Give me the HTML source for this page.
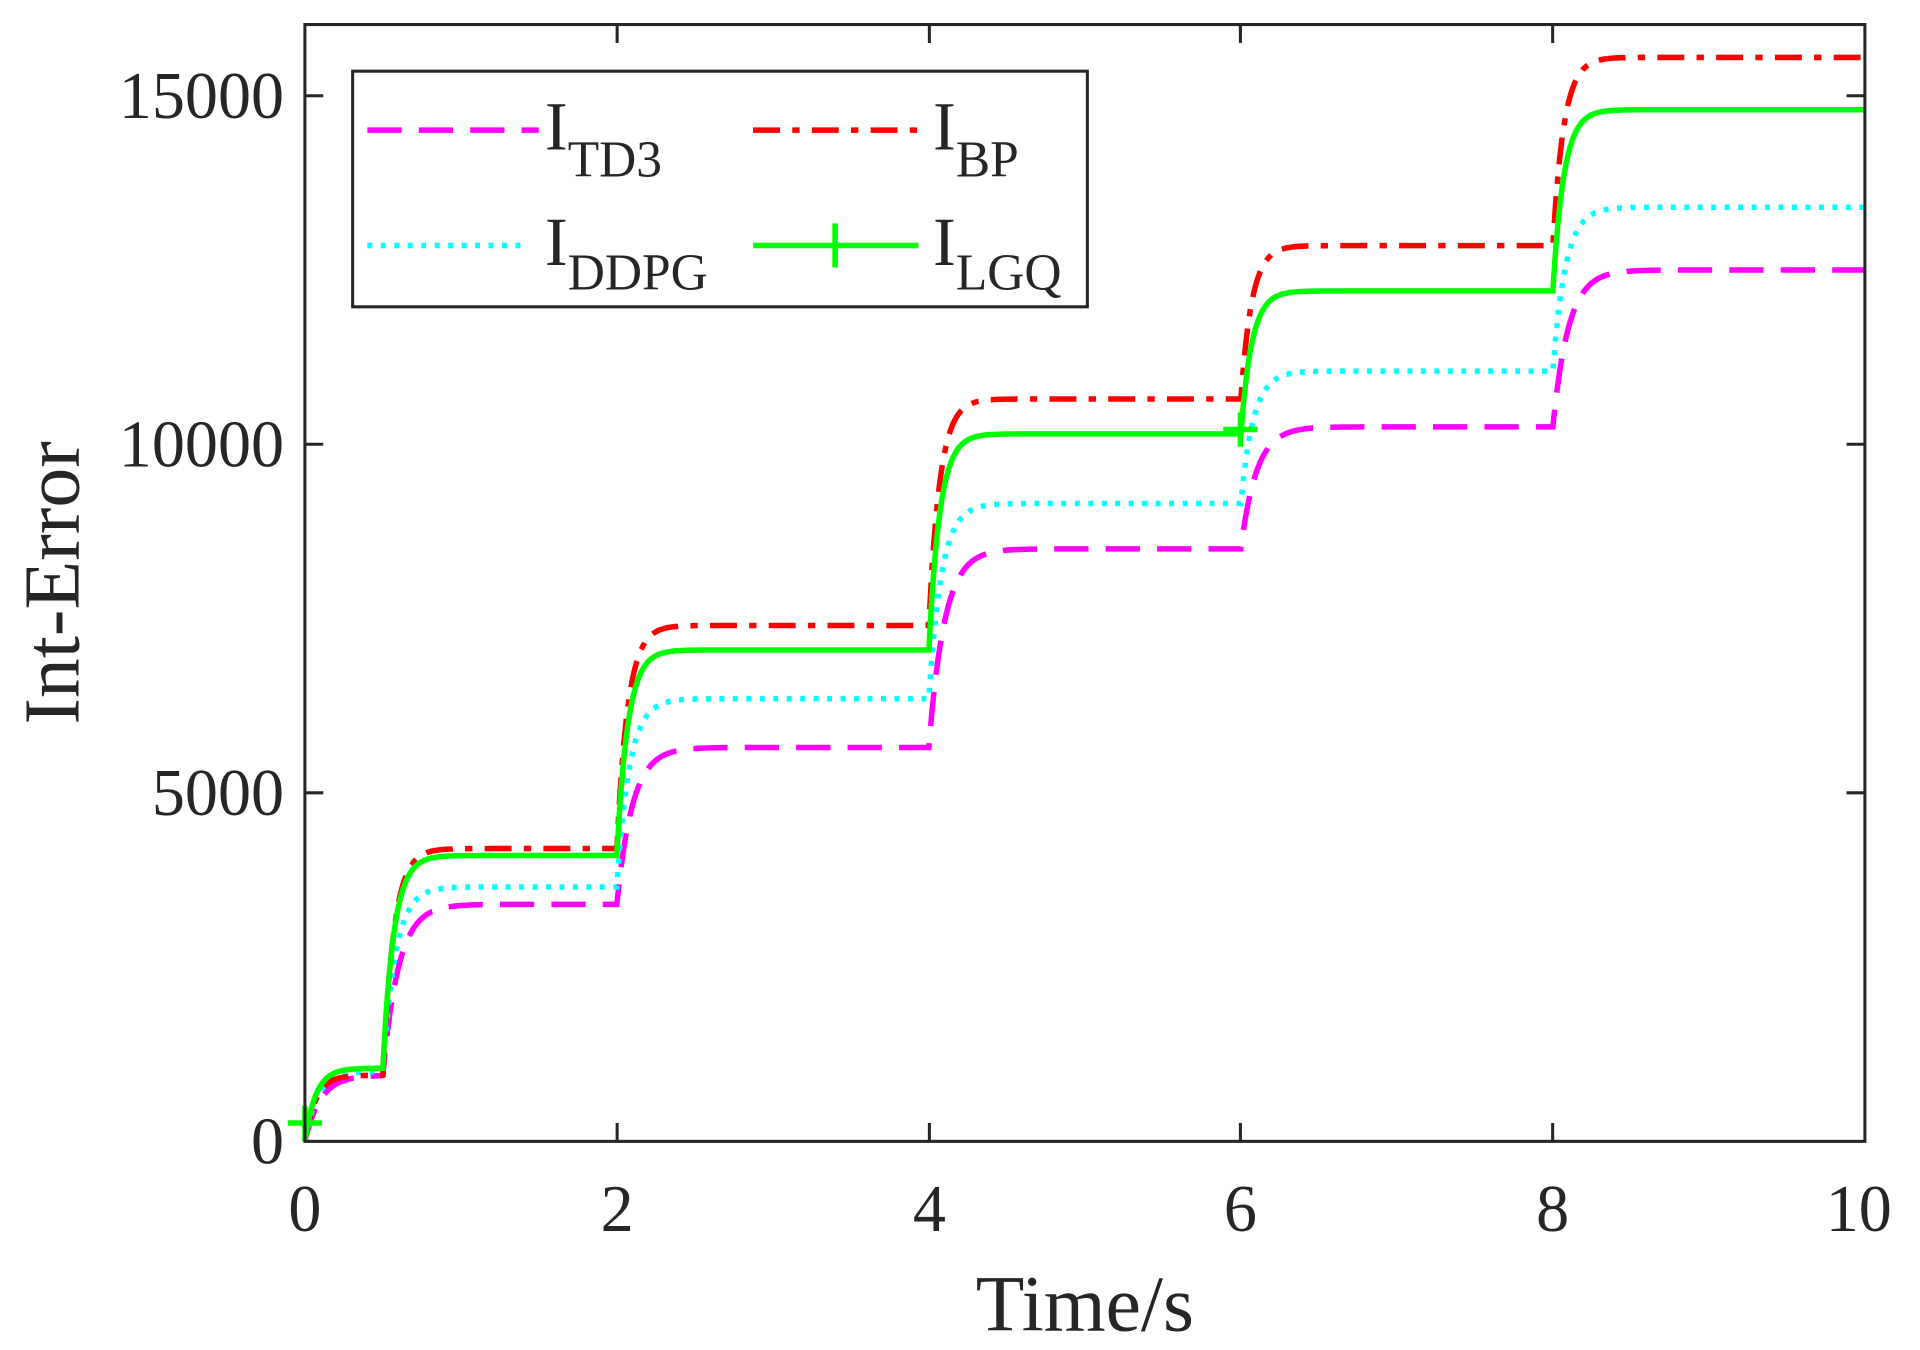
<!DOCTYPE html>
<html><head><meta charset="utf-8"><style>
html,body{margin:0;padding:0;background:#fff;}
svg{display:block;}
text{font-family:"Liberation Serif",serif;fill:#262626;}
</style></head><body>
<svg id="s" width="1920" height="1350" viewBox="0 0 1568 1100" preserveAspectRatio="none" xmlns="http://www.w3.org/2000/svg">
<rect width="1568" height="1100" fill="#fff"/>
<g id="curves"></g>
<rect x="249" y="20" width="1274" height="910" fill="none" stroke="#262626" stroke-width="2.5"/>
<g stroke="#262626" stroke-width="2.5">
<line x1="249" y1="930" x2="249" y2="915"/><line x1="504" y1="930" x2="504" y2="915"/><line x1="759" y1="930" x2="759" y2="915"/><line x1="1013" y1="930" x2="1013" y2="915"/><line x1="1268" y1="930" x2="1268" y2="915"/>
<line x1="504" y1="20" x2="504" y2="35"/><line x1="759" y1="20" x2="759" y2="35"/><line x1="1013" y1="20" x2="1013" y2="35"/><line x1="1268" y1="20" x2="1268" y2="35"/>
<line x1="249" y1="646" x2="264" y2="646"/><line x1="249" y1="362" x2="264" y2="362"/><line x1="249" y1="78" x2="264" y2="78"/>
<line x1="1523" y1="646" x2="1508" y2="646"/><line x1="1523" y1="362" x2="1508" y2="362"/><line x1="1523" y1="78" x2="1508" y2="78"/>
</g>
<g font-size="54" text-anchor="end">
<text x="232" y="948">0</text><text x="232" y="664">5000</text><text x="232" y="380">10000</text><text x="232" y="96">15000</text>
</g>
<g font-size="54" text-anchor="middle">
<text x="249" y="1003">0</text><text x="504" y="1003">2</text><text x="759" y="1003">4</text><text x="1013" y="1003">6</text><text x="1268" y="1003">8</text><text x="1518" y="1003">10</text>
</g>
<text x="886" y="1084" font-size="65" text-anchor="middle">Time/s</text>
<text transform="translate(64,475) rotate(-90)" font-size="65" text-anchor="middle">Int-Error</text>
<rect x="288" y="58" width="600" height="192" fill="#fff" stroke="#262626" stroke-width="2.5"/>
<line x1="300" y1="106" x2="440" y2="106" stroke="#ff00ff" stroke-width="4.5" stroke-dasharray="28,14"/>
<line x1="615" y1="106" x2="750" y2="106" stroke="#ff0000" stroke-width="4.5" stroke-dasharray="22,10,6,10"/>
<line x1="300" y1="200" x2="430" y2="200" stroke="#00ffff" stroke-width="4.5" stroke-dasharray="4,7"/>
<line x1="615" y1="200" x2="750" y2="200" stroke="#00ff00" stroke-width="4.5"/>
<line x1="682" y1="182" x2="682" y2="218" stroke="#00ff00" stroke-width="4.5"/>
<g font-size="56">
<text x="445" y="122">I<tspan font-size="42" dy="22">TD3</tspan></text>
<text x="762" y="122">I<tspan font-size="42" dy="22">BP</tspan></text>
<text x="445" y="216">I<tspan font-size="42" dy="20">DDPG</tspan></text>
<text x="762" y="216">I<tspan font-size="42" dy="20">LGQ</tspan></text>
</g>
</svg>
<script>
var series=[
 {c:"#ff00ff",d:"28,14",L:[950,3400,5650,8500,10250,12500],tau:0.1},
 {c:"#00ffff",d:"4,7",L:[1000,3650,6350,9150,11050,13400],tau:0.08},
 {c:"#ff0000",d:"22,10,6,10",L:[950,4200,7400,10650,12850,15550],tau:0.07},
 {c:"#00ff00",d:"",L:[1050,4100,7050,10150,12200,14800],tau:0.07}
];
var starts=[0,0.5,2,4,6,8];
function X(t){return 249+t*127.4;}
function Y(v){return 930-v*0.0568;}
var g=document.getElementById("curves"),ns="http://www.w3.org/2000/svg";
series.forEach(function(s){
 var pts=[];
 for(var t=0;t<=10.0001;t+=0.005){
  var k=0;for(var i=0;i<starts.length;i++)if(t>=starts[i])k=i;
  var a=k==0?0:s.L[k-1],b=s.L[k];
  var dt=t-starts[k];
  var v=a+(b-a)*(1-Math.exp(-dt/s.tau));
  pts.push(X(t).toFixed(1)+","+Y(v).toFixed(1));
 }
 var p=document.createElementNS(ns,"polyline");
 p.setAttribute("points",pts.join(" "));
 p.setAttribute("fill","none");p.setAttribute("stroke",s.c);p.setAttribute("stroke-width","4.5");
 if(s.d)p.setAttribute("stroke-dasharray",s.d);
 g.appendChild(p);
});
[[249,915],[1013,350]].forEach(function(m){
 var a=document.createElementNS(ns,"path");
 a.setAttribute("d","M"+(m[0]-14)+","+m[1]+"h28M"+m[0]+","+(m[1]-14)+"v28");
 a.setAttribute("stroke","#00ff00");a.setAttribute("stroke-width","4.5");
 g.appendChild(a);
});
</script>
</body></html>
